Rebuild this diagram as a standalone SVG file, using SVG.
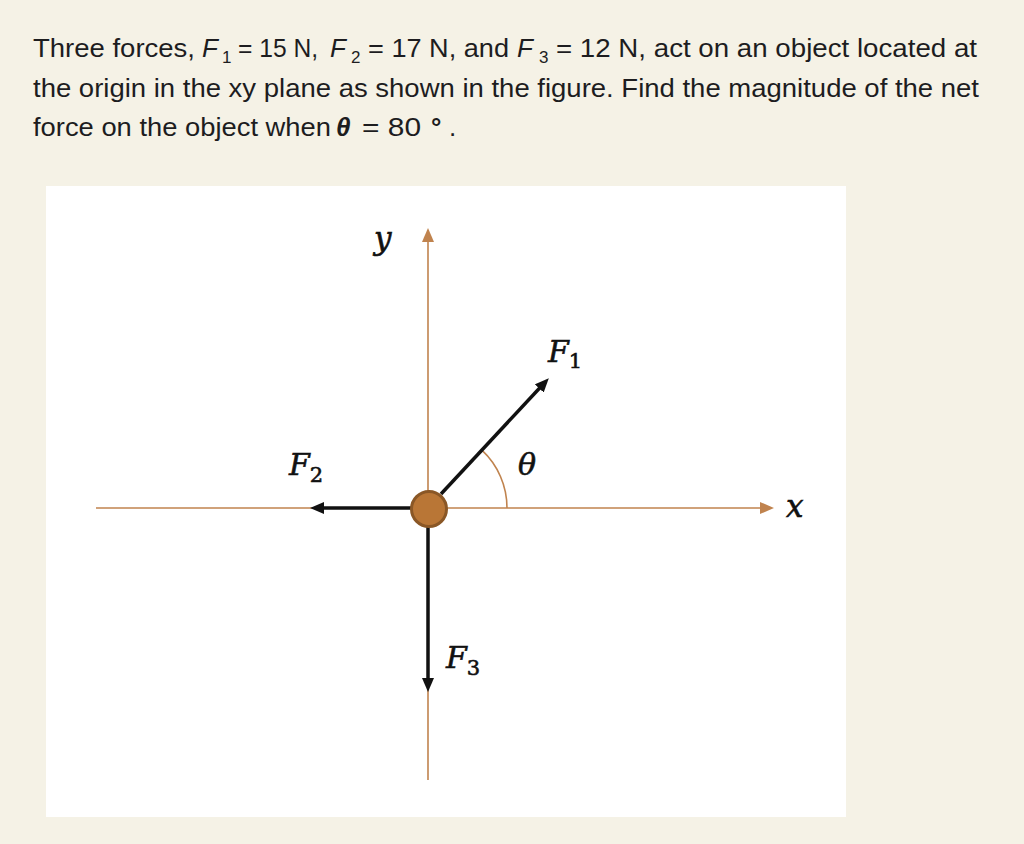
<svg xmlns="http://www.w3.org/2000/svg" width="1024" height="844" viewBox="0 0 1024 844">
<defs>
<style>
.q{font-family:"Liberation Sans",Arial,sans-serif;font-size:26px;fill:#1d1d1f}
.qi{font-style:italic}
.qs{font-size:17px}
.lab{font-family:"DejaVu Serif","Liberation Serif",serif;font-style:italic;font-weight:normal;fill:#111;stroke:#111;stroke-width:0.6}
.sub{font-style:normal}
.axis{stroke:#C0834E;stroke-width:1.6;fill:none}
.force{stroke:#111;stroke-width:3.5;fill:none}
</style>
<marker id="ah" viewBox="0 0 14 12" refX="4" refY="6" markerWidth="14" markerHeight="12" markerUnits="userSpaceOnUse" orient="auto"><path d="M0,0 L14,6 L0,12 z" fill="#111"/></marker>
<marker id="aa" viewBox="0 0 14 12" refX="4" refY="6" markerWidth="14" markerHeight="12" markerUnits="userSpaceOnUse" orient="auto"><path d="M0,0 L14,6 L0,12 z" fill="#C0834E"/></marker>
</defs>
<rect x="0" y="0" width="1024" height="844" fill="#F5F2E6"/>
<g id="question">
<text class="q" x="33" y="57" textLength="162" lengthAdjust="spacingAndGlyphs">Three forces,</text>
<text class="q qi" x="202" y="57">F</text>
<text class="q qs" x="222" y="63">1</text>
<text class="q" x="238" y="57" textLength="80" lengthAdjust="spacingAndGlyphs">= 15 N,</text>
<text class="q qi" x="330" y="57">F</text>
<text class="q qs" x="351" y="63">2</text>
<text class="q" x="368" y="57" textLength="141" lengthAdjust="spacingAndGlyphs">= 17 N, and</text>
<text class="q qi" x="517" y="57">F</text>
<text class="q qs" x="539" y="63">3</text>
<text class="q" x="556" y="57" textLength="421" lengthAdjust="spacingAndGlyphs">= 12 N, act on an object located at</text>
<text class="q" x="33" y="97" textLength="946" lengthAdjust="spacingAndGlyphs">the origin in the xy plane as shown in the figure. Find the magnitude of the net</text>
<text class="q" x="33" y="136" textLength="298" lengthAdjust="spacingAndGlyphs">force on the object when</text>
<text class="q qi" x="336" y="136" font-weight="bold">θ</text>
<text class="q" x="362" y="136" textLength="59" lengthAdjust="spacingAndGlyphs">= 80</text>
<text class="q" x="431" y="136" font-weight="bold">°</text>
<text class="q" x="449" y="136">.</text>
</g>
<rect id="panel" x="46" y="186" width="800" height="631" fill="#FFFFFF"/>
<g id="connectors">
<line id="x-axis" class="axis" x1="96" y1="508" x2="764" y2="508" marker-end="url(#aa)"/>
<line id="y-axis" class="axis" x1="428" y1="780" x2="428" y2="238" marker-end="url(#aa)"/>
<path id="theta-arc" class="axis" d="M507,508 A79,79 0 0 0 481.9,450.2"/>
<line id="F1-arrow" class="force" x1="441" y1="494" x2="542" y2="385.5" marker-end="url(#ah)"/>
<line id="F2-arrow" class="force" x1="412" y1="508" x2="320" y2="508" marker-end="url(#ah)"/>
<line id="F3-arrow" class="force" x1="428" y1="526" x2="428" y2="682" marker-end="url(#ah)"/>
</g>
<g id="object">
<circle cx="429" cy="509" r="17.5" fill="#B97636" stroke="#8A5726" stroke-width="3"/>
</g>
<g id="label-y"><text class="lab" x="374" y="249" font-size="31">y</text></g>
<g id="label-x"><text class="lab" x="786" y="517" font-size="31">x</text></g>
<g id="label-F1"><text class="lab" x="548" y="362" font-size="30">F<tspan class="sub" font-size="21" dy="6">1</tspan></text></g>
<g id="label-F2"><text class="lab" x="289" y="475" font-size="30">F<tspan class="sub" font-size="21" dy="7">2</tspan></text></g>
<g id="label-F3"><text class="lab" x="446" y="668" font-size="30">F<tspan class="sub" font-size="21" dy="7">3</tspan></text></g>
<g id="label-theta"><text class="lab" x="518" y="475" font-size="30">θ</text></g>
</svg>
